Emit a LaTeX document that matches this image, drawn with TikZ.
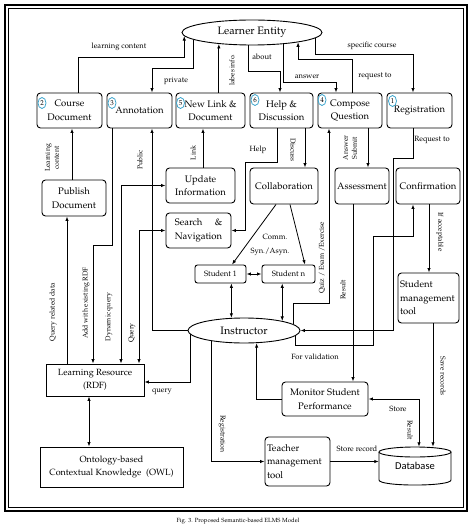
\documentclass[tikz,border=0pt]{standalone}
\usepackage[T1]{fontenc}
\usepackage{fontspec}
\newfontfamily\dbfont{Carlito}
\usetikzlibrary{arrows.meta,shapes.geometric,calc}
\newcommand\pal{\fontencoding{T1}\fontfamily{ppl}\selectfont}
\definecolor{numblue}{RGB}{60,165,205}
\tikzset{
  rbox/.style={draw, rounded corners=3.5pt, line width=0.9pt, align=center, inner sep=1pt, font=\pal\fontsize{9.5}{13.5}\selectfont},
  lbox/.style={draw, rounded corners=3.5pt, line width=0.9pt, align=left, inner xsep=2pt, inner ysep=1pt, font=\pal\fontsize{9.5}{13.5}\selectfont},
  sbox/.style={draw, line width=0.8pt, align=center, inner sep=1pt, font=\pal\fontsize{9}{13.5}\selectfont},
  stu/.style={draw, rounded corners=2.5pt, line width=0.9pt, inner sep=1pt, font=\pal\fontsize{7.8}{9}\selectfont},
  ell/.style={draw, ellipse, line width=0.9pt, inner sep=0pt, font=\pal\fontsize{10.8}{12}\selectfont},
  numc/.style={draw=numblue, ellipse, line width=0.8pt, inner sep=0pt, minimum width=8pt, minimum height=11pt, font=\pal\fontsize{7}{8}\selectfont},
  lbl/.style={inner sep=0pt, font=\pal\fontsize{7.6}{9}\selectfont},
  vlbl/.style={inner sep=0pt, rotate=90, align=center, font=\pal\fontsize{7}{9}\selectfont},
  dlbl/.style={inner sep=0pt, rotate=-90, align=center, font=\pal\fontsize{7}{9}\selectfont},
  arr/.style={line width=0.8pt, -{Latex[length=4.5pt,width=3.4pt]}},
  rarr/.style={line width=0.8pt, {Latex[length=4.5pt,width=3.4pt]}-},
  darr/.style={line width=0.8pt, {Latex[length=4.5pt,width=3.4pt]}-{Latex[length=4.5pt,width=3.4pt]}},
}
\begin{document}
\begin{tikzpicture}[x=1pt,y=-1pt]
\useasboundingbox (0,0) rectangle (474,526);
\fill[white] (0,0) rectangle (474,526);
% frame
\draw[line width=1.8pt] (5,5) rectangle (467,511);
\draw[line width=0.6pt] (8.5,8.5) rectangle (463.5,507.5);

% nodes
\node[ell, minimum width=140pt, minimum height=25pt] (LE) at (252,32.5) {Learner Entity};
\node[rbox, minimum width=65pt, minimum height=35pt] (CD) at (69.5,110.5) {Course\\Document};
\node[rbox, minimum width=65pt, minimum height=35pt] (AN) at (139.5,110.5) {Annotation};
\node[rbox, minimum width=69pt, minimum height=35pt] (NL) at (210.5,110.5) {New Link \&\\Document};
\node[rbox, minimum width=63pt, minimum height=35pt] (HD) at (281.5,110.5) {Help \&\\Discussion};
\node[rbox, minimum width=64pt, minimum height=35pt] (CQ) at (350,110.5) {Compose\\Question};
\node[rbox, minimum width=65pt, minimum height=35pt] (RG) at (419.5,110.5) {Registration};

\node[numc] (n2) at (42,103) {2};
\node[numc] (n3) at (112,103) {3};
\node[numc] (n5) at (180.5,103) {5};
\node[numc] (n6) at (255,100) {6};
\node[numc] (n4) at (322,100) {4};
\node[numc] (n1) at (392.5,101) {1};

\node[rbox, minimum width=64pt, minimum height=36pt] (PD) at (74,198) {Publish\\Document};
\node[rbox, minimum width=69pt, minimum height=35pt] (UI) at (200.5,185.5) {Update\\Information};
\node[lbox, minimum width=65pt, minimum height=35pt] (SN) at (198.5,230.5) {Search\hspace{1.3em}\&\\Navigation};
\node[rbox, minimum width=68pt, minimum height=36pt] (CO) at (284,186) {Collaboration};
\node[rbox, minimum width=54pt, minimum height=36pt] (AS) at (362,186) {Assessment};
\node[rbox, minimum width=64pt, minimum height=36pt] (CF) at (428,186) {Confirmation};

\node[stu, minimum width=51pt, minimum height=18pt] (S1) at (220.5,274) {Student 1};
\node[stu, minimum width=53pt, minimum height=18pt] (Sn) at (288.5,274) {Student n};
\node[lbox, text width=57pt, minimum height=50pt] (SM) at (428.5,298) {Student\\management\\tool};

\node[ell, minimum width=112pt, minimum height=25pt] (IN) at (244,330.5) {Instructor};

\node[sbox, minimum width=98pt, minimum height=32pt] (LR) at (95,380) {Learning Resource\\(RDF)};
\node[sbox, minimum width=143pt, minimum height=40pt] (ON) at (111.5,467) {Ontology-based\\Contextual Knowledge\ \ (OWL)};
\node[rbox, minimum width=86pt, minimum height=34pt] (MS) at (325,399) {Monitor Student\\Performance};
\node[lbox, text width=61pt, minimum height=49pt] (TM) at (297.5,461.5) {Teacher\\management\\tool};

% database
\node[minimum width=72pt, minimum height=38pt, inner sep=0pt, font=\dbfont\fontsize{10.5}{12}\selectfont] (DB) at (415,466) {\raisebox{-1pt}{Database}};
\draw[line width=0.9pt] (379,452) -- (379,480) .. controls (379,486.7) and (451,486.7) .. (451,480) -- (451,452);
\draw[line width=0.9pt] (415,452) ellipse [x radius=36pt, y radius=5pt];

% top connectors
\draw[arr] ([xshift=8.5pt]CD.north) -- ++(0,-35) -| (LE.183);
\draw[rarr] ([xshift=12.5pt]AN.north) -- ++(0,-24) -| (LE.187);
\draw[arr] (LE.199 |- NL.north) -- (LE.199);
\draw[rarr] ([xshift=-1.5pt]HD.north) -- ++(0,-21) -| (LE.256);
\draw[rarr] ([xshift=-14pt]CQ.north) -- ++(0,-10) -| (LE.340);
\draw[arr] ([xshift=2pt]CQ.north) -- ++(0,-33) -| (LE.348);
\draw[rarr] ([xshift=-6.5pt]RG.north) -- ++(0,-38) -| (LE.355);

% middle connectors
\draw[arr] ([xshift=-2pt]PD.north) -- ([xshift=-2pt]PD.north |- CD.south);
\draw[arr] ([xshift=2.5pt]UI.north) -- ([xshift=2.5pt]UI.north |- NL.south);
\draw[arr] ([xshift=-4.5pt]HD.south) -- ++(0,34) -- ++(-32,0) |- (SN.east);
\draw[arr] ([xshift=23.5pt]HD.south) -- ([xshift=23.5pt]HD.south |- CO.north);
\draw[arr] ([xshift=18pt]CQ.south) -- ([xshift=18pt]CQ.south |- AS.north);
\draw[rarr] ([xshift=-21pt]CQ.south) -- ++(0,175) -| (IN.7);
\draw[arr] ([xshift=-9pt]AS.south) -- ([xshift=-9pt]AS.south |- MS.north);
\draw[arr] ([xshift=-6.5pt]RG.south) -- ++(0,30) -- ++(-20,0) |- (IN.east);
\draw[rarr] ([xshift=-15pt]CF.south) -- ++(0,32) -- ++(-40,0) -- ++(0,109) -| (IN.354);
\draw[arr] ([xshift=1pt]CF.south) -- ([xshift=1pt]CF.south |- SM.north);
\draw[arr] ([xshift=4.5pt]SM.south) -- ([xshift=4.5pt]SM.south |- DB.north);
\draw[darr] ([xshift=4pt]DB.north) |- (MS.east);
\draw[arr] (TM.east) -- (TM.east -| DB.west);
\draw[arr] (IN.198) |- (TM.west);
\draw[arr] (MS.west) -| (IN.315);
\draw[arr] (IN.184) |- ([yshift=-2pt]LR.east);
\draw[arr] (IN.west) -| ([xshift=12.5pt]AN.south);
\draw[arr] ([xshift=-27.5pt]AN.south) -- ++(0,117) -| ([xshift=-2pt]LR.north);
\draw[darr] (UI.west) -| ([xshift=26pt]LR.north);
\draw[darr] (SN.west) -| ([xshift=44pt]LR.north);
\draw[arr] ([xshift=-28pt]LR.north) -- ([xshift=-28pt]LR.north |- PD.south);
\draw[darr] ([xshift=-6pt]LR.south) -- ([xshift=-6pt]LR.south |- ON.north);
\draw[arr] ([xshift=-8pt]CO.south) -- ([xshift=11.5pt]S1.north);
\draw[arr] ([xshift=6pt]CO.south) -- ([xshift=16.5pt]Sn.north);
\draw[darr] (S1.east) -- (Sn.west);
\draw[darr] (IN.135 |- S1.south) -- (IN.135);
\draw[darr] (IN.14 |- Sn.south) -- (IN.14);

% labels
\node[lbl] (t1) at (119,47) {learning content};
\node[lbl] (t2) at (176,81) {private};
\node[vlbl] (t3) at (232,70) {labes info.};
\node[lbl] (t4) at (262,57) {about};
\node[lbl] (t5) at (307,77) {answer};
\node[lbl] (t6) at (375,76) {request to};
\node[lbl] (t7) at (372,46) {specific course};
\node[vlbl] (t8) at (52,158) {Learning\\content};
\node[vlbl] (t9) at (140,160) {Public};
\node[vlbl] (t10) at (193,153) {Link};
\node[lbl] (t11) at (258,150) {Help};
\node[dlbl] (t12) at (293,150) {Discuss};
\node[vlbl] (t13) at (350,148) {Answer\\Submit};
\node[lbl] (t14) at (432,140) {Request to};
\node[lbl] (t15) at (275,237) {Comm.};
\node[lbl] (t16) at (270,252) {Syn./Asyn.};
\node[vlbl] (t17) at (322,258) {Quiz / Exam /Exercise};
\node[dlbl] (t18) at (440,232) {If acceptable};
\node[vlbl] (t19) at (343,290) {Result};
\node[lbl] (t20) at (315,357) {For validation};
\node[dlbl] (t21) at (443,376) {Save records};
\node[vlbl] (t22) at (53,312) {Query related data};
\node[vlbl] (t23) at (86,303) {Add with existing RDF};
\node[vlbl] (t24) at (109,317) {Dynamic query};
\node[vlbl] (t25) at (132,333) {Query};
\node[lbl] (t26) at (162,392) {query};
\node[dlbl] (t27) at (222,434) {Registration};
\node[lbl] (t28) at (398,409) {Store};
\node[dlbl] (t29) at (410,430) {Result};
\node[lbl] (t30) at (357,449) {Store record};

\node[inner sep=0pt, font=\pal\fontsize{6}{7}\selectfont] (cap) at (238,521) {Fig. 3. Proposed Semantic-based ELMS Model};
\end{tikzpicture}
\end{document}
